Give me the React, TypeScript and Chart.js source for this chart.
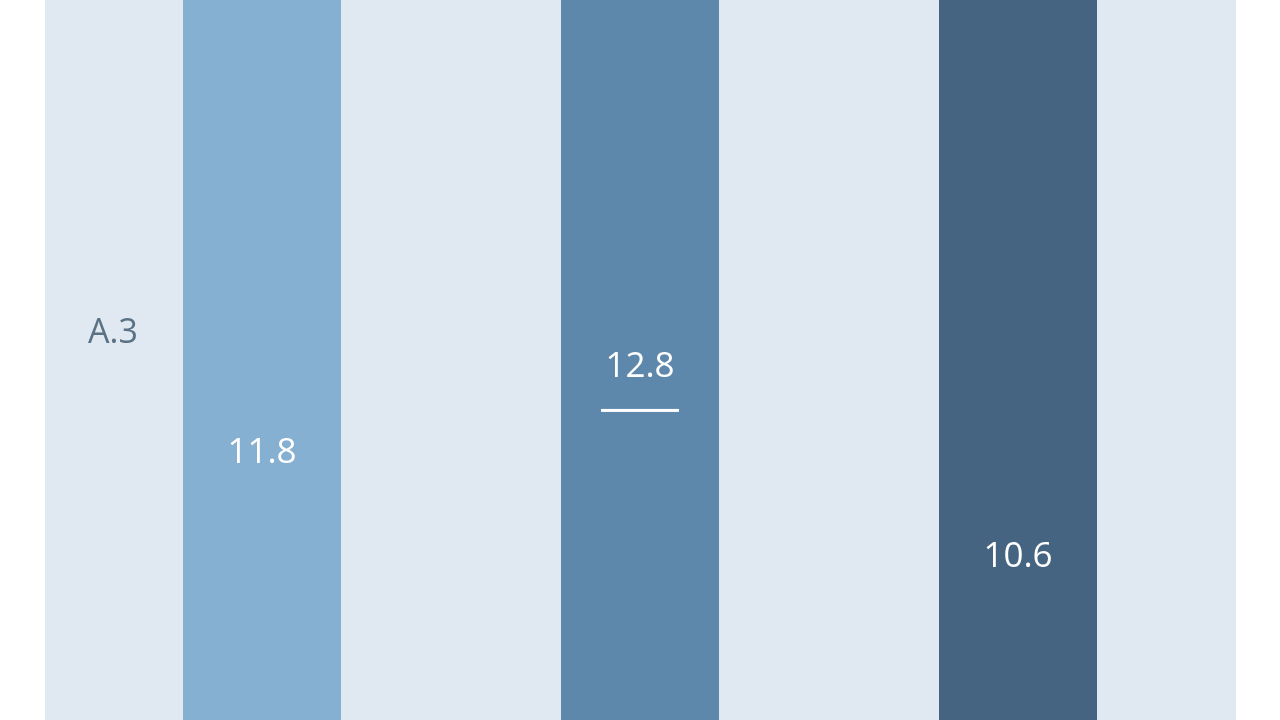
import React, { useEffect, useRef } from "react";
import { Chart, registerables } from "chart.js";

Chart.register(...registerables);

const categories = ["A", "B", "C"];
const values = [11.8, 12.8, 10.6];
const valueLabels = ["11.8", "12.8", "10.6"];
const underlined = [false, true, false];
const barColors = ["#85b0d2", "#5e88ab", "#456482"];
const sideLabel = "A.3";

const panelPlugin = {
  id: "panel",
  beforeDraw(chart: any) {
    const { ctx, chartArea, width, height } = chart;
    ctx.save();
    ctx.fillStyle = "#ffffff";
    ctx.fillRect(0, 0, width, height);
    ctx.fillStyle = "#e0e9f2";
    ctx.fillRect(chartArea.left - 28, 0, chartArea.right - chartArea.left + 57, height);
    ctx.restore();
  },
  afterDatasetsDraw(chart: any) {
    const { ctx, chartArea } = chart;
    const meta = chart.getDatasetMeta(0);
    const ys = chart.scales.yl;
    ctx.save();
    ctx.textAlign = "center";
    ctx.textBaseline = "middle";
    ctx.font = "500 35px 'Open Sans', sans-serif";
    meta.data.forEach((bar: any, i: number) => {
      const y = ys.getPixelForValue(values[i]);
      ctx.fillStyle = "#ffffff";
      ctx.fillText(valueLabels[i], bar.x, y);
      if (underlined[i]) {
        ctx.fillRect(bar.x - 39, y + 42, 78, 3);
      }
    });
    ctx.fillStyle = "#5b7285";
    ctx.font = "400 34px 'Open Sans', sans-serif";
    ctx.fillText(sideLabel, chartArea.left + 40, chartArea.top + 333);
    ctx.restore();
  },
};

export default function App() {
  const ref = useRef<HTMLCanvasElement>(null);
  useEffect(() => {
    if (!ref.current) return;
    const chart = new Chart(ref.current, {
      type: "bar",
      data: {
        labels: categories,
        datasets: [
          {
            data: values,
            backgroundColor: barColors,
            borderWidth: 0,
            categoryPercentage: 1,
            barPercentage: 0.418,
          },
        ],
      },
      options: {
        animation: false,
        responsive: true,
        maintainAspectRatio: false,
        layout: { padding: { left: 73, right: 73, top: 0, bottom: 0 } },
        plugins: { legend: { display: false }, tooltip: { enabled: false }, title: { display: false } },
        scales: {
          x: { display: false },
          y: { display: false, min: 0, max: 10 },
          yl: { display: false, min: 8.72, max: 17.04, position: "right" },
        },
      },
      plugins: [panelPlugin],
    });
    return () => chart.destroy();
  }, []);
  return (
    <div style={{ position: "fixed", left: 0, top: 0, width: 1280, height: 720, background: "#fff" }}>
      <canvas ref={ref} />
    </div>
  );
}
